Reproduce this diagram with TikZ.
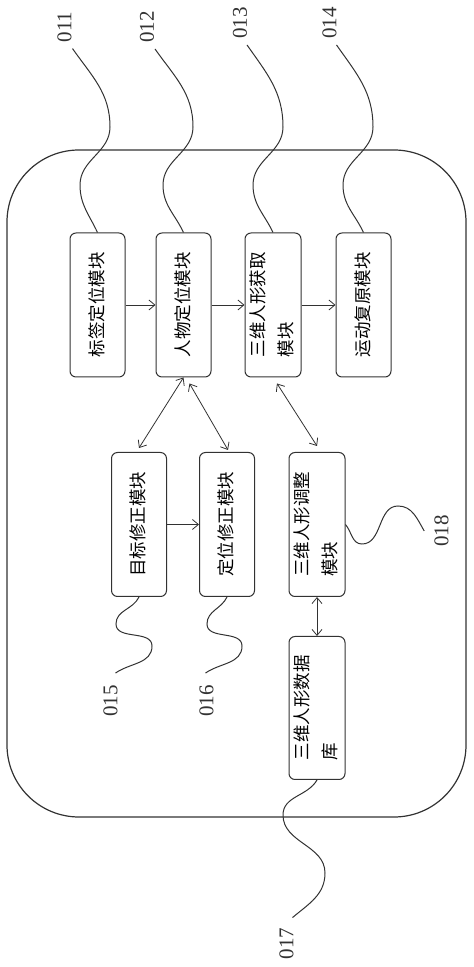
\documentclass[tikz,border=0pt]{standalone}
\usepackage{fontspec}
\usepackage{graphicx}
\setmainfont{Liberation Serif}
\newfontfamily\cjk{Noto Sans CJK SC}
\usetikzlibrary{arrows.meta, positioning}
\definecolor{linegray}{RGB}{50, 50, 50}
\newcommand{\vtext}[1]{\rotatebox{90}{\begin{tabular}{@{}l@{}}#1\end{tabular}}}

\begin{document}
\begin{tikzpicture}[
    x=1pt, y=1pt,
    module/.style={
        rectangle, rounded corners=6pt,
        minimum width=55pt, minimum height=144pt,
        inner sep=0pt,
        draw=linegray, line width=1pt,
        font=\cjk\fontsize{17.5pt}{28pt}\selectfont
    },
    arrow/.style={
        -{Straight Barb[length=6pt,width=10pt]}, line width=0.8pt, draw=linegray
    },
    biarrow/.style={
        {Straight Barb[length=6pt,width=10pt]}-{Straight Barb[length=6pt,width=10pt]},
        line width=0.8pt, draw=linegray
    },
    leader/.style={line width=1pt, draw=linegray},
    reflabel/.style={
        rotate=90, inner sep=0pt,
        font=\fontsize{21pt}{24pt}\selectfont, text=linegray
    }
]
\useasboundingbox (0,0) rectangle (474,967);

% Outer frame
\draw[line width=1.2pt, draw=linegray, rounded corners=72pt] (7,150) rectangle (466,817);

% Top row
\node[module] (lab) at (97.5,662) {\vtext{标签定位模块}};
\node[module, right=30pt of lab] (pers) {\vtext{人物定位模块}};
\node[module, right=33pt of pers] (shape) {\vtext{三维人形获取\\模块}};
\node[module, right=34pt of shape] (mot) {\vtext{运动复原模块}};

% Middle row
\node[module] (tgt) at (139,442.5) {\vtext{目标修正模块}};
\node[module, right=32pt of tgt] (pos) {\vtext{定位修正模块}};
\node[module, right=33.5pt of pos] (adj) {\vtext{三维人形调整\\模块}};

% Database
\node[module, minimum height=143pt, below=39pt of adj] (db) {\vtext{三维人形数据\\库}};

% Reference numerals
\node[reflabel] (r011) at (64.5,940) {011};
\node[reflabel] (r012) at (147,940) {012};
\node[reflabel] (r013) at (240,944) {013};
\node[reflabel] (r014) at (329.5,944) {014};
\node[reflabel] (r015) at (110.5,266) {015};
\node[reflabel] (r016) at (206.5,266) {016};
\node[reflabel] (r017) at (286.5,23.5) {017};
\node[reflabel] (r018) at (441.5,436) {018};

% Main flow arrows
\draw[arrow] (lab) -- (pers);
\draw[arrow] (pers) -- (shape);
\draw[arrow] (shape) -- (mot);
\draw[arrow] (tgt) -- (pos);

% Two-way links
\draw[biarrow] (pers.south) -- ([yshift=4pt]tgt.north);
\draw[biarrow] ([xshift=6pt,yshift=-6pt]pers.south) -- ([xshift=1pt,yshift=2pt]pos.north);
\draw[biarrow] ([xshift=4pt,yshift=-6pt]shape.south) -- ([yshift=6pt]adj.north);
\draw[biarrow] (adj) -- (db);

% Leader lines
\draw[leader] ([xshift=8pt,yshift=-6pt]r011.west) to[out=-55,in=90] (110,840)
    to[out=-90,in=90] (80,782) to[out=-90,in=115] (lab.north);
\draw[leader] ([xshift=8pt,yshift=-6pt]r012.west) to[out=-55,in=90] (193,840)
    to[out=-90,in=90] (163,782) to[out=-90,in=115] (pers.north);
\draw[leader] ([xshift=7pt,yshift=-6pt]r013.west) to[out=-55,in=90] (283,840)
    to[out=-90,in=90] (253,782) to[out=-90,in=115] (shape.north);
\draw[leader] ([xshift=7pt,yshift=-6pt]r014.west) to[out=-55,in=90] (373,840)
    to[out=-90,in=90] (343,782) to[out=-90,in=115] (mot.north);
\draw[leader] (tgt.south) to[out=-115,in=90] (116,343)
    to[out=-90,in=90] (152,321) to[out=-90,in=35] ([xshift=5pt,yshift=12pt]r015.east);
\draw[leader] (pos.south) to[out=-115,in=90] (207,343)
    to[out=-90,in=90] (242,321) to[out=-90,in=35] ([xshift=-1pt,yshift=12pt]r016.east);
\draw[leader] (adj.east) to[out=-50,in=180] (362,423)
    to[out=0,in=180] (398,461) to[out=0,in=120] ([xshift=-10pt]r018.north);
\draw[leader] (db.south) to[out=-120,in=90] (283,152)
    to[out=-90,in=90] (325,94) to[out=-90,in=40] ([xshift=6pt,yshift=10pt]r017.east);

\end{tikzpicture}
\end{document}
